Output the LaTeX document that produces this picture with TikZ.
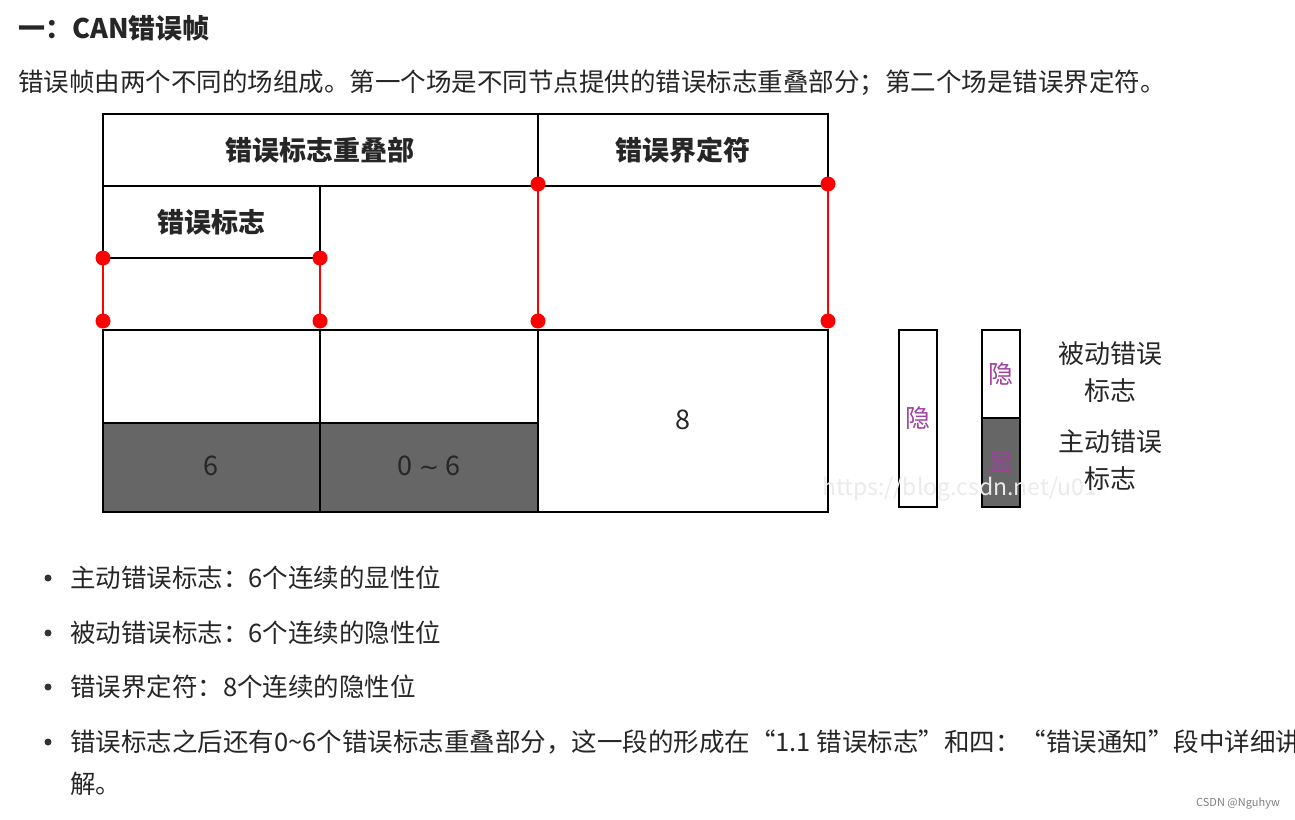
\documentclass[tikz,border=0pt]{standalone}
\usepackage{fontspec}
\setmainfont{Noto Sans CJK SC}
\newfontfamily\dv{DejaVu Sans}
\begin{document}
\begin{tikzpicture}[x=1pt,y=-1pt,
  txt/.style={anchor=west,inner sep=0pt,font=\fontsize{25.5}{30}\selectfont,text=black!85},
  lab/.style={inner sep=0pt,font=\fontsize{27}{32}\selectfont\bfseries,text=black!85},
  pur/.style={inner sep=0pt,font=\fontsize{25}{28}\selectfont,text=violet!75},
  rd/.style={circle,fill=red,inner sep=0pt,minimum size=15pt},
  thin/.style={line width=1.8pt},
  thick/.style={line width=2.5pt}]
\useasboundingbox (0,0) rectangle (1295,819);
\fill[white] (0,0) rectangle (1295,819);
\node[txt,font=\fontsize{27}{30}\selectfont\bfseries] (t) at (18,28) {一：CAN错误帧};
\node[txt] (p) at (18,83) {错误帧由两个不同的场组成。第一个场是不同节点提供的错误标志重叠部分；第二个场是错误界定符。};
% top rows
\draw[thin] (103,114) rectangle (828,186);
\draw[thin] (538,114) -- (538,186);
\draw[thin] (103,186) -- (103,258) -- (320,258) -- (320,186);
\node[lab] (a) at (320,150) {错误标志重叠部};
\node[lab] (b) at (683,150) {错误界定符};
\node[lab] (c) at (211,222) {错误标志};
\draw[red,line width=1.5pt] (103,258) -- (103,321) (320,258) -- (320,321) (538,184) -- (538,321) (828,184) -- (828,321);
\foreach \p in {(103,258),(320,258),(103,321),(320,321),(538,184),(828,184),(538,321),(828,321)} \node[rd] at \p {};
% lower block
\fill[black!60] (103,423) rectangle (538,512);
\draw[thick] (103,330) rectangle (828,512);
\draw[thick] (320,330) -- (320,512) (538,330) -- (538,512) (103,423) -- (538,423);
\node[lab,font=\fontsize{27}{32}\selectfont] (n6) at (211,466) {6};
\node[lab,font=\fontsize{27}{32}\selectfont] (n06) at (429,466) {0 {\dv\fontsize{24}{28}\selectfont\char"7E} 6};
\node[lab,font=\fontsize{27}{32}\selectfont] (n8) at (683,420) {8};
% small boxes
\draw[thick] (899,330) rectangle (937,507);
\node[pur] (y1) at (918,418) {隐};
\fill[black!60] (982,418) rectangle (1020,507);
\draw[thick] (982,330) rectangle (1020,507) (982,418) -- (1020,418);
\node[pur] (y2) at (1001,374) {隐};
\node[pur] (x2) at (1001,462) {显};
\node[inner sep=0pt,font=\fontsize{23}{26}\selectfont,text=black!8] (w) at (960,489) {https://blog.csdn.net/u01};
\node[lab,align=center,font=\fontsize{26}{37}\selectfont] (l1) at (1110,372) {被动错误\\标志};
\node[lab,align=center,font=\fontsize{26}{37}\selectfont] (l2) at (1110,460) {主动错误\\标志};
% bullets
\foreach \yy/\tt in {578/主动错误标志：6个连续的显性位, 633/被动错误标志：6个连续的隐性位, 687/错误界定符：8个连续的隐性位, 742/错误标志之后还有0\textasciitilde6个错误标志重叠部分，这一段的形成在“1.1 错误标志”和四：“错误通知”段中详细讲}{
  \fill[black!80] (48,\yy) circle (3.5pt);
  \node[txt] at (70,\yy) {\tt};}
\node[txt] (last) at (70,784) {解。};
\node[inner sep=0pt,font=\fontsize{11}{13}\selectfont,text=black!50] (cs) at (1238,803) {CSDN @Nguhyw};
\end{tikzpicture}
\end{document}
